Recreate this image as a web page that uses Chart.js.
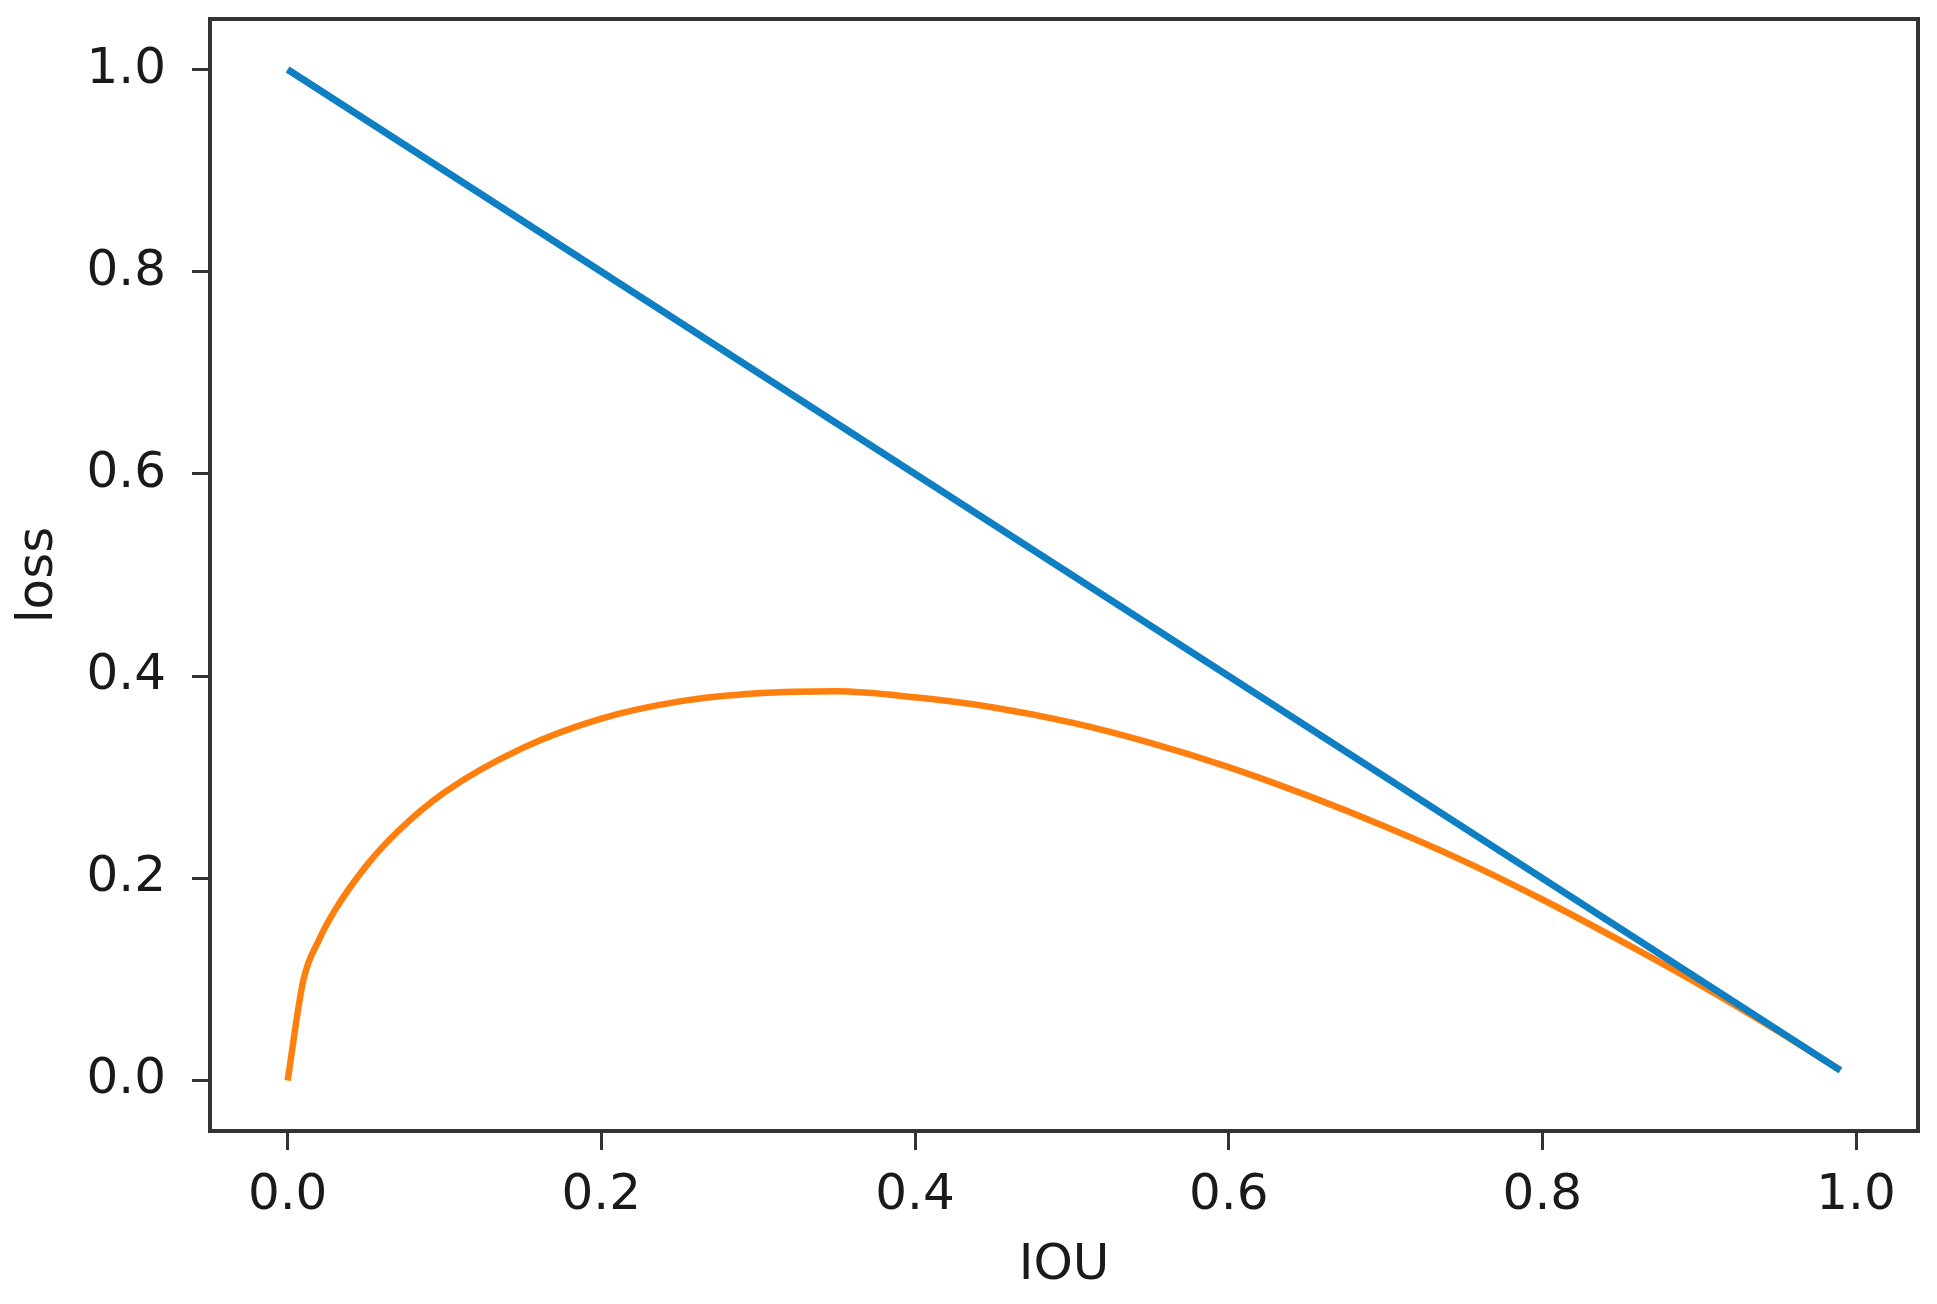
<!DOCTYPE html>
<html lang="en">
<head>
    <meta charset="UTF-8">
    <title>loss vs IOU</title>
    <script src="https://cdn.jsdelivr.net/npm/chart.js"></script>
    <style>
        body {
            margin: 0;
            background: white;
        }
        #lossChart {
            display: block;
        }
    </style>
</head>
<body>
    <canvas id="lossChart" width="1937" height="1304"></canvas>

    <script>
        // values
        let iouLinear = [0, 0.99];
        let lossLinear = [1.0, 0.01];

        let iouCurve = [0, 0.01, 0.02, 0.03, 0.05, 0.07, 0.1, 0.15, 0.2, 0.25, 0.3, 0.35, 0.4,
            0.45, 0.5, 0.55, 0.6, 0.65, 0.7, 0.75, 0.8, 0.85, 0.9, 0.95, 0.99];
        let lossCurve = [0, 0.099, 0.139, 0.168, 0.212, 0.246, 0.285, 0.329, 0.358, 0.375, 0.383, 0.385, 0.379,
            0.369, 0.354, 0.334, 0.310, 0.282, 0.251, 0.217, 0.179, 0.138, 0.095, 0.049, 0.010];

        let xTicks = [0.0, 0.2, 0.4, 0.6, 0.8, 1.0];
        let yTicks = [0.0, 0.2, 0.4, 0.6, 0.8, 1.0];

        let toPoints = (xs, ys) => xs.map((x, i) => ({ x: x, y: ys[i] }));

        let tickFont = { family: 'DejaVu Sans', size: 50 };
        let textColor = '#1a1a1a';
        let axisColor = '#333333';

        // box around the plot area
        let frame = {
            id: 'frame',
            afterDraw(chart) {
                let a = chart.chartArea;
                let ctx = chart.ctx;
                ctx.save();
                ctx.strokeStyle = axisColor;
                ctx.lineWidth = 4;
                ctx.strokeRect(a.left, a.top, a.right - a.left, a.bottom - a.top);
                ctx.restore();
            }
        };

        new Chart(document.getElementById('lossChart'), {
            type: 'line',
            data: {
                datasets: [
                    {
                        label: 'linear',
                        data: toPoints(iouLinear, lossLinear),
                        borderColor: '#0d7fc2',
                        borderWidth: 7,
                        pointRadius: 0
                    },
                    {
                        label: 'curve',
                        data: toPoints(iouCurve, lossCurve),
                        borderColor: '#ff7f0e',
                        borderWidth: 6.5,
                        pointRadius: 0,
                        cubicInterpolationMode: 'monotone'
                    }
                ]
            },
            options: {
                responsive: false,
                animation: false,
                devicePixelRatio: 1,
                layout: { padding: { top: 19, right: 19, left: 0, bottom: 0 } },
                plugins: {
                    legend: { display: false },
                    tooltip: { enabled: false }
                },
                scales: {
                    x: {
                        type: 'linear',
                        min: -0.0495,
                        max: 1.0395,
                        afterBuildTicks: s => { s.ticks = xTicks.map(v => ({ value: v })); },
                        afterFit: s => {
                            s.height = 173;
                            s.paddingLeft = 0;
                            s.paddingRight = 0;
                        },
                        border: { display: false },
                        grid: {
                            drawOnChartArea: false,
                            drawTicks: true,
                            tickLength: 19,
                            tickWidth: 3,
                            tickColor: axisColor
                        },
                        ticks: {
                            padding: 16,
                            maxRotation: 0,
                            color: textColor,
                            font: tickFont,
                            callback: v => v.toFixed(1)
                        },
                        title: {
                            display: true,
                            text: 'IOU',
                            color: textColor,
                            font: tickFont,
                            padding: { top: 0, bottom: 8 }
                        }
                    },
                    y: {
                        type: 'linear',
                        min: -0.05,
                        max: 1.05,
                        afterBuildTicks: s => { s.ticks = yTicks.map(v => ({ value: v })); },
                        afterFit: s => {
                            s.width = 210;
                            s.paddingTop = 0;
                            s.paddingBottom = 0;
                        },
                        border: { display: false },
                        grid: {
                            drawOnChartArea: false,
                            drawTicks: true,
                            tickLength: 18,
                            tickWidth: 3,
                            tickColor: axisColor
                        },
                        ticks: {
                            padding: 26,
                            color: textColor,
                            font: tickFont,
                            callback: v => v.toFixed(1)
                        },
                        title: {
                            display: true,
                            text: 'loss',
                            color: textColor,
                            font: tickFont,
                            padding: { top: 9, bottom: 0 }
                        }
                    }
                }
            },
            plugins: [frame]
        });
    </script>
</body>
</html>
